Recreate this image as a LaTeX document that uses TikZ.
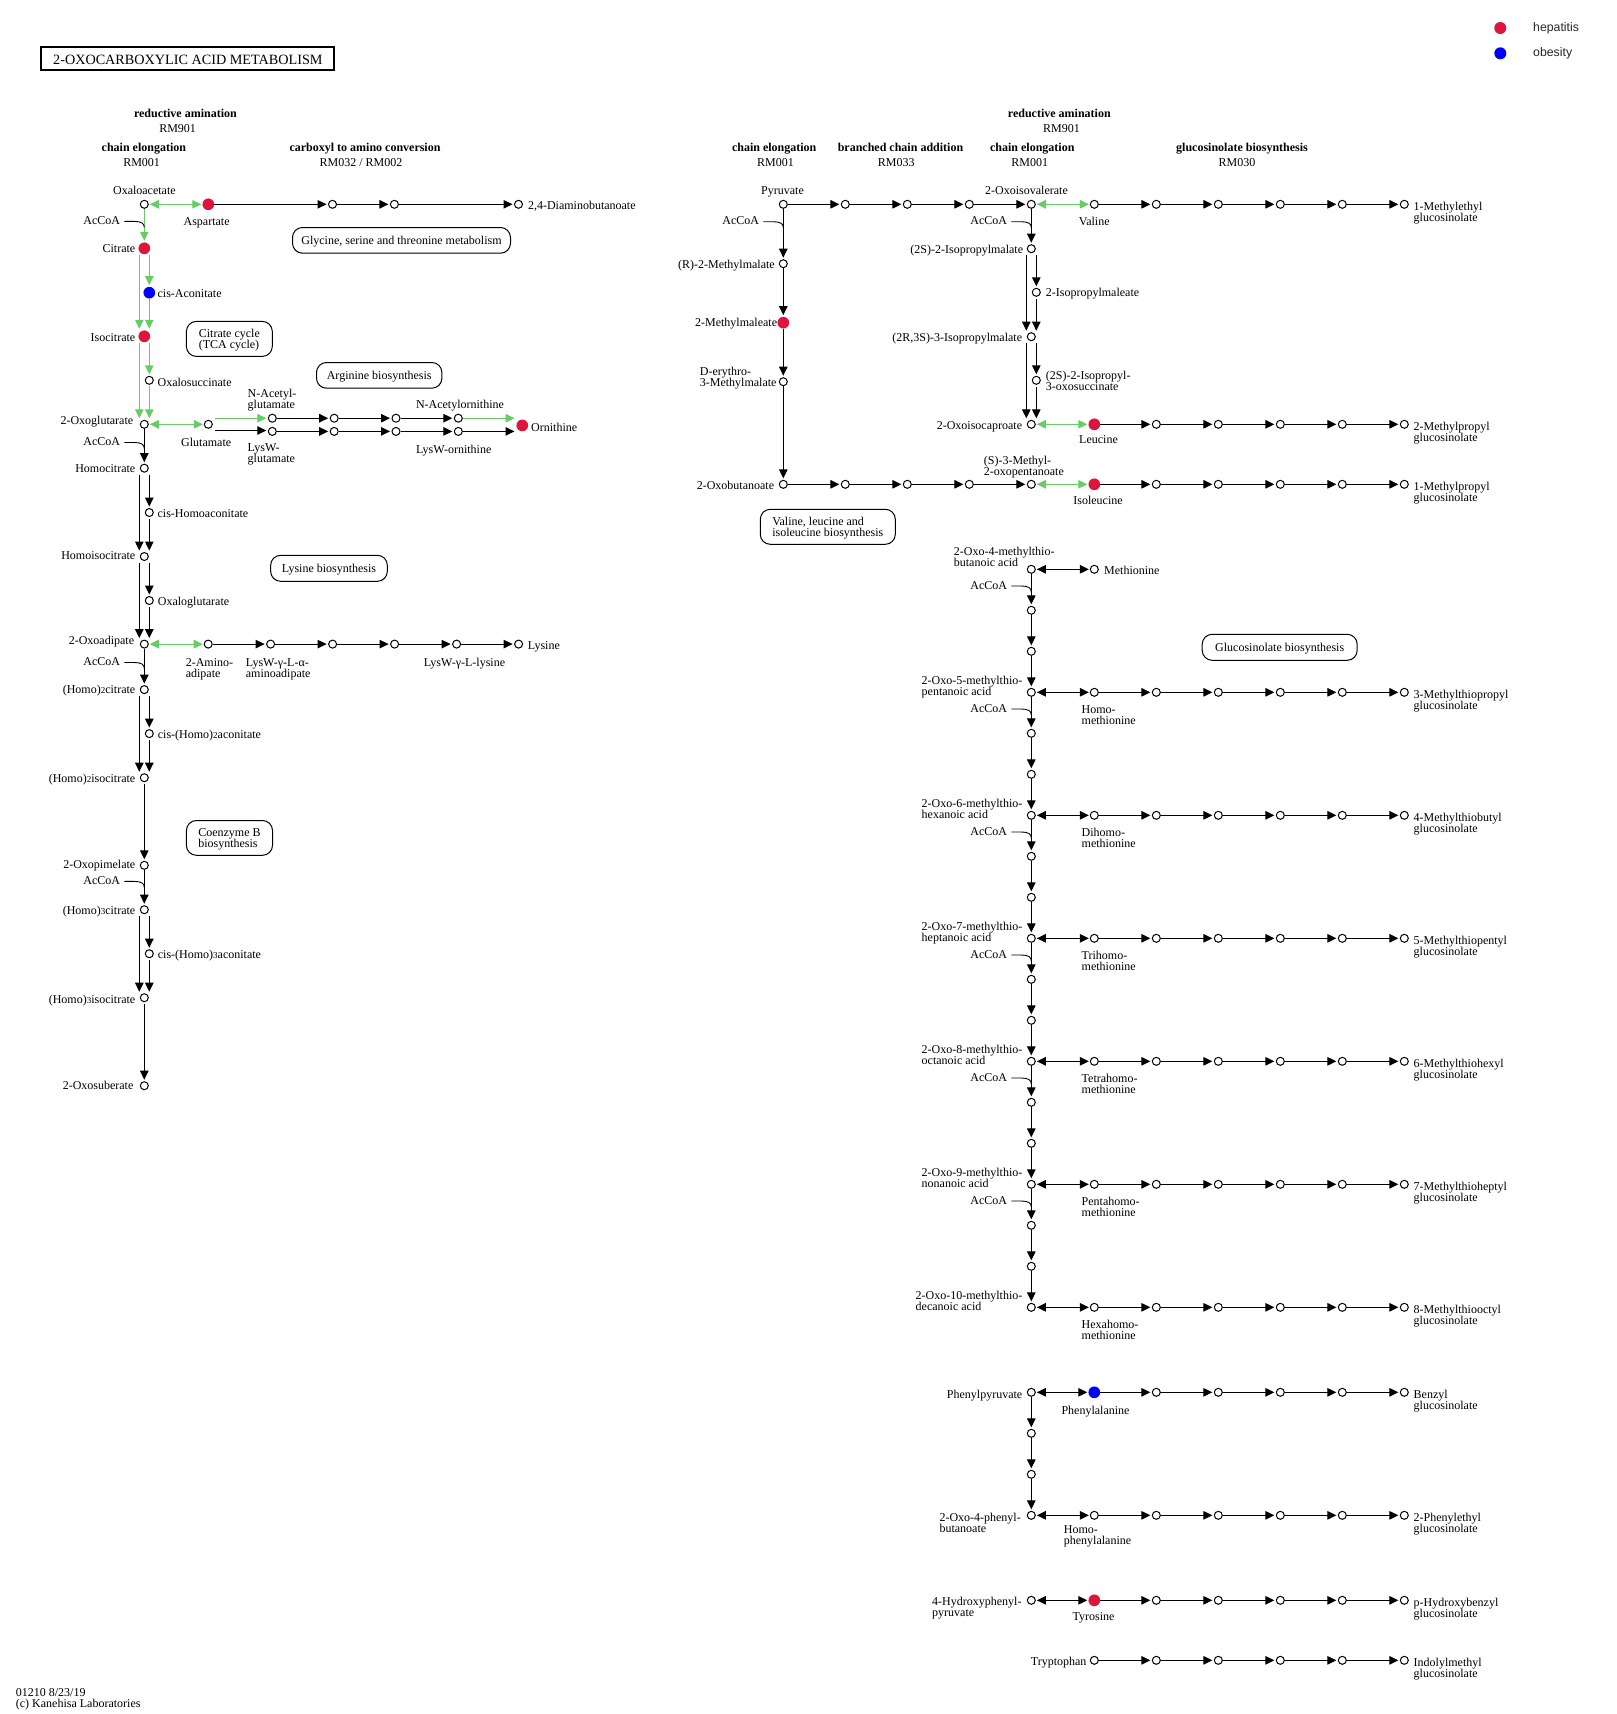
\documentclass[tikz,border=0pt]{standalone}
\usepackage{fontspec}
\setmainfont{Liberation Serif}
\newfontfamily\legfont{Liberation Sans}
\usetikzlibrary{arrows.meta}
\definecolor{hitred}{RGB}{222,20,60}
\definecolor{hitblue}{RGB}{0,0,255}
\definecolor{kgreen}{RGB}{102,204,102}
\newcommand\fz{\fontsize{12}{11}\selectfont\lineskiplimit=-10pt\relax}
\newcommand\mystrut{\rule[-2.5pt]{0pt}{11pt}}
\newcommand\two[2]{\mystrut #1\\\mystrut #2}
\newcommand\twob[2]{\rule[-2.5pt]{0pt}{13pt}#1\\\mystrut #2}
\newcommand\ssd[1]{{\fontsize{9}{9}\selectfont #1}}
\tikzset{
  met/.style={circle,draw=black,fill=white,line width=1pt,inner sep=0pt,minimum size=8pt},
  hit/.style={circle,fill=hitred,inner sep=0pt,minimum size=11.7pt},
  hib/.style={circle,fill=hitblue,inner sep=0pt,minimum size=11.7pt},
  txt/.style={font=\fz,inner sep=0pt,text height=8.5pt,text depth=2.5pt,yshift=-1.2pt},
  tw/.style={font=\fz,inner sep=0pt,align=left,yshift=-1.2pt},
  hd/.style={txt,font=\fz\bfseries},
  mapbox/.style={draw=black,line width=1pt,rounded corners=10pt,font=\fz,inner sep=0pt,align=left},
  mapone/.style={mapbox,text height=8.5pt,text depth=0.7pt},
  arr/.style={draw=black,line width=1.1pt,-{Triangle[length=9pt,width=8.5pt]},shorten >=1.5pt},
  arg/.style={draw=kgreen,line width=1.1pt,-{Triangle[length=9pt,width=8.5pt]},shorten >=1.5pt},
  dbl/.style={draw=black,line width=1.1pt,{Triangle[length=9pt,width=8.5pt]}-{Triangle[length=9pt,width=8.5pt]},shorten >=1pt,shorten <=1pt},
  dbg/.style={draw=kgreen,line width=1.1pt,{Triangle[length=9pt,width=8.5pt]}-{Triangle[length=9pt,width=8.5pt]},shorten >=1pt,shorten <=1pt},
  cof/.style={draw=black,line width=0.9pt}
}
% AcCoA side entry: id, main line x, y
\newcommand\acc[3]{%
  \node[txt,anchor=east,yshift=1.2pt] (ac#1) at (#2-24,#3) {AcCoA};
  \coordinate (aj#1) at (#2,#3+6);
  \draw[cof,shorten <=4pt] (ac#1.east) -- (#2-10,#3) .. controls (#2-3,#3) and (#2,#3+2) .. (aj#1);
}
% glucosinolate row: id, y, style of first node, end label
\newcommand\grow[4]{%
  \node[#3] (#10) at (1094.3,#2) {};
  \node[met] (#11) at (1156.3,#2) {};
  \node[met] (#12) at (1218.3,#2) {};
  \node[met] (#13) at (1280.3,#2) {};
  \node[met] (#14) at (1342.3,#2) {};
  \node[met] (#15) at (1404.3,#2) {};
  \draw[arr] (#10) -- (#11);
  \draw[arr] (#11) -- (#12);
  \draw[arr] (#12) -- (#13);
  \draw[arr] (#13) -- (#14);
  \draw[arr] (#14) -- (#15);
  \node[tw,anchor=west] (#1e) at (1413.5,#2+7.2) {\two{#4}{glucosinolate}};
}
\begin{document}
\begin{tikzpicture}[x=1pt,y=-1pt]
\useasboundingbox (0,0) rectangle (1617,1714);
% title and legend
\node[draw=black,line width=2pt,minimum width=293pt,minimum height=23.7pt,inner sep=0pt,text height=12.4pt,text depth=0pt,font=\fontsize{14.2}{14}\selectfont] (title) at (187.9,58.55) {2-OXOCARBOXYLIC ACID METABOLISM};
\node[hit,minimum size=12pt] (leg1) at (1500.3,28) {};
\node[hib,minimum size=12pt] (leg2) at (1500.3,53.3) {};
\node[anchor=west,inner sep=0pt,font=\legfont\fontsize{12.3}{12}\selectfont,text=black!85] (legt1) at (1533,28) {hepatitis};
\node[anchor=west,inner sep=0pt,font=\legfont\fontsize{12.3}{12}\selectfont,text=black!85] (legt2) at (1533,53.3) {obesity};
\node[tw,anchor=west] (foot) at (15.7,1697.8) {\two{01210 8/23/19}{(c) Kanehisa Laboratories}};
% headers, left
\node[hd] (h1) at (185.4,112.9) {reductive amination};
\node[txt] (h2) at (177.6,128.6) {RM901};
\node[hd] (h3) at (143.9,146.8) {chain elongation};
\node[txt] (h4) at (141.6,162.5) {RM001};
\node[hd] (h5) at (365,146.8) {carboxyl to amino conversion};
\node[txt] (h6) at (361,162.5) {RM032 / RM002};
% headers, right
\node[hd] (h7) at (1059.3,112.9) {reductive amination};
\node[txt] (h8) at (1061.5,128.6) {RM901};
\node[hd] (h9) at (774.2,146.8) {chain elongation};
\node[txt] (h10) at (775.5,162.5) {RM001};
\node[hd] (h11) at (900.5,146.8) {branched chain addition};
\node[txt] (h12) at (896.2,162.5) {RM033};
\node[hd] (h13) at (1032.3,146.8) {chain elongation};
\node[txt] (h14) at (1029.7,162.5) {RM001};
\node[hd] (h15) at (1242,146.8) {glucosinolate biosynthesis};
\node[txt] (h16) at (1237,162.5) {RM030};
% map boxes
\node[mapone,minimum width=218pt,minimum height=25.7pt] (bGly) at (401.5,240.35) {Glycine, serine and threonine metabolism};
\node[mapbox,minimum width=85.9pt,minimum height=35pt] (bTca) at (229.35,338.9) {\twob{Citrate cycle}{(TCA cycle)}};
\node[mapone,minimum width=125.4pt,minimum height=25.7pt] (bArg) at (379.2,375.35) {Arginine biosynthesis};
\node[mapone,minimum width=116.7pt,minimum height=26pt] (bLys) at (329,568.3) {Lysine biosynthesis};
\node[mapbox,minimum width=86.1pt,minimum height=34.8pt] (bCoB) at (229.45,837.9) {\twob{Coenzyme B}{biosynthesis}};
\node[mapbox,minimum width=135pt,minimum height=35pt] (bVal) at (827.8,526.8) {\twob{Valine, leucine and}{isoleucine biosynthesis}};
\node[mapone,minimum width=155pt,minimum height=26pt] (bGls) at (1279.7,647.3) {Glucosinolate biosynthesis};
% LEFT COLUMN nodes
\node[met] (Oxa) at (144.3,204.3) {};
\node[hit] (Asp) at (208.3,204.3) {};
\node[met] (Dab1) at (332.5,204.3) {};
\node[met] (Dab2) at (394.4,204.3) {};
\node[met] (Dab) at (518.5,204.3) {};
\node[hit] (Cit) at (144.3,248.3) {};
\node[hib] (Aco) at (149.3,292.7) {};
\node[hit] (Iso) at (144.3,336.3) {};
\node[met] (Oxs) at (149.3,380.3) {};
\node[met] (Oxg) at (144.3,424.3) {};
\node[met] (Glu) at (208.3,424.3) {};
\node[met] (Ng1) at (272.3,418.2) {};
\node[met] (Ng2) at (334.2,418.2) {};
\node[met] (Ng3) at (396,418.2) {};
\node[met] (Ng4) at (458.3,418.2) {};
\node[met] (Lg1) at (272.3,431.4) {};
\node[met] (Lg2) at (334.2,431.4) {};
\node[met] (Lg3) at (396,431.4) {};
\node[met] (Lg4) at (458.3,431.4) {};
\node[hit] (Orn) at (522.3,425.4) {};
\node[met] (Hci) at (144.3,468.2) {};
\node[met] (Hac) at (149.3,512.5) {};
\node[met] (His) at (144.3,556.5) {};
\node[met] (Oxl) at (149.3,600.5) {};
\node[met] (Oad) at (144.3,644.1) {};
\node[met] (Aad) at (208.2,644.1) {};
\node[met] (Ly1) at (270.6,644.1) {};
\node[met] (Ly2) at (332.6,644.1) {};
\node[met] (Ly3) at (394.6,644.1) {};
\node[met] (Ly4) at (456.6,644.1) {};
\node[met] (Lys) at (518.6,644.1) {};
\node[met] (H2c) at (144.3,689.6) {};
\node[met] (H2a) at (149.3,733.6) {};
\node[met] (H2i) at (144.3,777.7) {};
\node[met] (Opm) at (144.3,865.3) {};
\node[met] (H3c) at (144.3,909.7) {};
\node[met] (H3a) at (149.3,953.7) {};
\node[met] (H3i) at (144.3,997.7) {};
\node[met] (Osb) at (144.3,1085.7) {};
\coordinate (gs1) at (215,418.2);
\coordinate (gs2) at (215,430.5);
\coordinate (oe1) at (516,418.2);
\coordinate (oe2) at (516,431.4);
% LEFT COLUMN connectors
\draw[dbg] (Oxa) -- (Asp);
\draw[arr] (Asp) -- (Dab1);
\draw[arr] (Dab1) -- (Dab2);
\draw[arr] (Dab2) -- (Dab);
\draw[arg] (Oxa) -- (Cit);
\draw[arg,shorten <=1pt] ([xshift=-5pt]Cit.south) -- ([xshift=-5pt]Iso.north);
\draw[arg,shorten <=1pt] ([xshift=5pt]Cit.south) -- (Aco);
\draw[arg] (Aco) -- ([xshift=5pt]Iso.north);
\draw[arg,shorten <=1pt] ([xshift=-5pt]Iso.south) -- ([xshift=-5pt]Oxg.north);
\draw[arg,shorten <=1pt] ([xshift=5pt]Iso.south) -- (Oxs);
\draw[arg,shorten <=1.5pt] (Oxs) -- ([xshift=5pt]Oxg.north);
\draw[dbg] (Oxg) -- (Glu);
\draw[arg] (gs1) -- (Ng1);
\draw[arr] (gs2) -- (Lg1.west |- gs2);
\draw[arr] (Ng1) -- (Ng2);
\draw[arr] (Ng2) -- (Ng3);
\draw[arr] (Ng3) -- (Ng4);
\draw[arr] (Lg1) -- (Lg2);
\draw[arr] (Lg2) -- (Lg3);
\draw[arr] (Lg3) -- (Lg4);
\draw[arg] (Ng4) -- (oe1);
\draw[arr] (Lg4) -- (oe2);
\draw[arr] (Oxg) -- (Hci);
\draw[arr,shorten <=2pt] ([xshift=-5pt]Hci.south) -- ([xshift=-5pt]His.north);
\draw[arr,shorten <=2pt] ([xshift=5pt]Hci.south) -- (Hac);
\draw[arr,shorten <=2pt] (Hac) -- ([xshift=5pt]His.north);
\draw[arr,shorten <=2pt] ([xshift=-5pt]His.south) -- ([xshift=-5pt]Oad.north);
\draw[arr,shorten <=2pt] ([xshift=5pt]His.south) -- (Oxl);
\draw[arr,shorten <=2pt] (Oxl) -- ([xshift=5pt]Oad.north);
\draw[dbg] (Oad) -- (Aad);
\draw[arr] (Aad) -- (Ly1);
\draw[arr] (Ly1) -- (Ly2);
\draw[arr] (Ly2) -- (Ly3);
\draw[arr] (Ly3) -- (Ly4);
\draw[arr] (Ly4) -- (Lys);
\draw[arr] (Oad) -- (H2c);
\draw[arr,shorten <=2pt] ([xshift=-5pt]H2c.south) -- ([xshift=-5pt]H2i.north);
\draw[arr,shorten <=2pt] ([xshift=5pt]H2c.south) -- (H2a);
\draw[arr,shorten <=2pt] (H2a) -- ([xshift=5pt]H2i.north);
\draw[arr,shorten <=2pt] (H2i) -- (Opm);
\draw[arr] (Opm) -- (H3c);
\draw[arr,shorten <=2pt] ([xshift=-5pt]H3c.south) -- ([xshift=-5pt]H3i.north);
\draw[arr,shorten <=2pt] ([xshift=5pt]H3c.south) -- (H3a);
\draw[arr,shorten <=2pt] (H3a) -- ([xshift=5pt]H3i.north);
\draw[arr,shorten <=2pt] (H3i) -- (Osb);
\acc{L1}{144.3}{221.4}
\acc{L2}{144.3}{442.5}
\acc{L3}{144.3}{662.5}
\acc{L4}{144.3}{881.4}
% LEFT COLUMN labels
\node[txt] (tOxa) at (144.4,190) {Oxaloacetate};
\node[txt] (tAsp) at (206.6,221) {Aspartate};
\node[txt,anchor=west] (tDab) at (527.8,205.7) {2,4-Diaminobutanoate};
\node[txt,anchor=east] (tCit) at (135.5,248.6) {Citrate};
\node[txt,anchor=west] (tAco) at (157.4,292.9) {cis-Aconitate};
\node[txt,anchor=east] (tIso) at (135.5,336.8) {Isocitrate};
\node[txt,anchor=west] (tOxs) at (157.4,381.8) {Oxalosuccinate};
\node[txt,anchor=east] (tOxg) at (133.4,420.7) {2-Oxoglutarate};
\node[txt] (tGlu) at (206.2,441.8) {Glutamate};
\node[tw,anchor=west] (tNg1) at (247.5,398.4) {\two{N-Acetyl-}{glutamate}};
\node[tw,anchor=west] (tLg1) at (247.5,452.6) {\two{LysW-}{glutamate}};
\node[txt,anchor=west] (tNg4) at (415.8,403.9) {N-Acetylornithine};
\node[txt,anchor=west] (tLg4) at (415.8,449) {LysW-ornithine};
\node[txt,anchor=west] (tOrn) at (531,426.8) {Ornithine};
\node[txt,anchor=east] (tHci) at (135.5,468.2) {Homocitrate};
\node[txt,anchor=west] (tHac) at (157.4,512.9) {cis-Homoaconitate};
\node[txt,anchor=east] (tHis) at (135.5,555.7) {Homoisocitrate};
\node[txt,anchor=west] (tOxl) at (157.7,601.6) {Oxaloglutarate};
\node[txt,anchor=east] (tOad) at (134.3,640.6) {2-Oxoadipate};
\node[tw,anchor=west] (tAad) at (185.6,667.4) {\two{2-Amino-}{adipate}};
\node[tw,anchor=west] (tLy1) at (245.7,667.4) {\two{LysW-γ-L-α-}{aminoadipate}};
\node[txt,anchor=west] (tLy4) at (423.6,662) {LysW-γ-L-lysine};
\node[txt,anchor=west] (tLys) at (527.7,644.9) {Lysine};
\node[txt,anchor=east] (tH2c) at (135.5,689.6) {(Homo)\ssd{2}citrate};
\node[txt,anchor=west] (tH2a) at (157.7,734) {cis-(Homo)\ssd{2}aconitate};
\node[txt,anchor=east] (tH2i) at (135.5,778) {(Homo)\ssd{2}isocitrate};
\node[txt,anchor=east] (tOpm) at (135.5,864.1) {2-Oxopimelate};
\node[txt,anchor=east] (tH3c) at (135.5,910) {(Homo)\ssd{3}citrate};
\node[txt,anchor=west] (tH3a) at (157.7,954) {cis-(Homo)\ssd{3}aconitate};
\node[txt,anchor=east] (tH3i) at (135.5,998.9) {(Homo)\ssd{3}isocitrate};
\node[txt,anchor=east] (tOsb) at (133.6,1085.7) {2-Oxosuberate};
% RIGHT: branched chain part
\node[met] (Pyr) at (783.3,204.3) {};
\node[met] (Pb1) at (845.3,204.3) {};
\node[met] (Pb2) at (907.3,204.3) {};
\node[met] (Pb3) at (969.3,204.3) {};
\node[met] (Ois) at (1031.3,204.3) {};
\node[met] (Rmm) at (783.3,263.7) {};
\node[hit] (Mme) at (783.3,322.7) {};
\node[met] (Der) at (783.3,381.7) {};
\node[met] (Obu) at (783.3,484.3) {};
\node[met] (Ob1) at (845.3,484.3) {};
\node[met] (Ob2) at (907.3,484.3) {};
\node[met] (Ob3) at (969.3,484.3) {};
\node[met] (Mop) at (1031.3,484.3) {};
\node[met] (Ipm) at (1031.3,248.7) {};
\node[met] (Imal) at (1036.3,292.3) {};
\node[met] (Rip) at (1031.3,336.7) {};
\node[met] (Ios) at (1036.3,380.3) {};
\node[met] (Oic) at (1031.3,424.3) {};
\grow{V}{204.3}{met}{1-Methylethyl}
\grow{E}{424.3}{hit}{2-Methylpropyl}
\grow{I}{484.3}{hit}{1-Methylpropyl}
\draw[arr] (Pyr) -- (Pb1);
\draw[arr] (Pb1) -- (Pb2);
\draw[arr] (Pb2) -- (Pb3);
\draw[arr] (Pb3) -- (Ois);
\draw[arr] (Pyr) -- (Rmm);
\draw[arr] (Rmm) -- (Mme);
\draw[arr] (Mme) -- (Der);
\draw[arr] (Der) -- (Obu);
\draw[arr] (Obu) -- (Ob1);
\draw[arr] (Ob1) -- (Ob2);
\draw[arr] (Ob2) -- (Ob3);
\draw[arr] (Ob3) -- (Mop);
\draw[arr] (Ois) -- (Ipm);
\draw[arr,shorten <=2pt] ([xshift=-5pt]Ipm.south) -- ([xshift=-5pt]Rip.north);
\draw[arr,shorten <=2pt] ([xshift=5pt]Ipm.south) -- (Imal);
\draw[arr,shorten <=2pt] (Imal) -- ([xshift=5pt]Rip.north);
\draw[arr,shorten <=2pt] ([xshift=-5pt]Rip.south) -- ([xshift=-5pt]Oic.north);
\draw[arr,shorten <=2pt] ([xshift=5pt]Rip.south) -- (Ios);
\draw[arr,shorten <=2pt] (Ios) -- ([xshift=5pt]Oic.north);
\draw[dbg] (Ois) -- (V0);
\draw[dbg] (Oic) -- (E0);
\draw[dbg] (Mop) -- (I0);
\acc{R1}{783.3}{221.7}
\acc{R2}{1031.3}{221.7}
\node[txt] (tPyr) at (782.5,190) {Pyruvate};
\node[txt] (tOis) at (1026.5,190) {2-Oxoisovalerate};
\node[txt] (tVal) at (1094.3,221.7) {Valine};
\node[txt,anchor=east] (tRmm) at (775,264.7) {(R)-2-Methylmalate};
\node[txt,anchor=east] (tMme) at (777.3,322.7) {2-Methylmaleate};
\node[tw,anchor=west] (tDer) at (699.7,377.3) {\two{D-erythro-}{3-Methylmalate}};
\node[txt,anchor=east] (tObu) at (774.3,485.7) {2-Oxobutanoate};
\node[txt,anchor=east] (tIpm) at (1023.3,249) {(2S)-2-Isopropylmalate};
\node[txt,anchor=west] (tImal) at (1045.7,292.7) {2-Isopropylmaleate};
\node[txt,anchor=east] (tRip) at (1022.3,337) {(2R,3S)-3-Isopropylmalate};
\node[tw,anchor=west] (tIos) at (1045.7,380.3) {\two{(2S)-2-Isopropyl-}{3-oxosuccinate}};
\node[txt,anchor=east] (tOic) at (1022.3,425) {2-Oxoisocaproate};
\node[txt] (tLeu) at (1098.5,439.7) {Leucine};
\node[txt] (tIle) at (1098,500.7) {Isoleucine};
\node[tw,anchor=west] (tMop) at (983.7,466.3) {\two{(S)-3-Methyl-}{2-oxopentanoate}};
% RIGHT: methionine chain elongation
\node[met] (M) at (1094.3,569.3) {};
\node[tw,anchor=west] (tk0) at (953.7,557.2) {\two{2-Oxo-4-methylthio-}{butanoic acid}};
\node[txt,anchor=west] (tM) at (1104,570) {Methionine};
\foreach \vi/\vy in {0/569.3,1/692.3,2/815.3,3/938.3,4/1061.3,5/1184.3,6/1307.3}{
  \node[met] (k\vi) at (1031.3,\vy) {};
}
\foreach \vi/\vy in {0/569.3,1/692.3,2/815.3,3/938.3,4/1061.3,5/1184.3}{
  \node[met] (k\vi a) at (1031.3,\vy+41) {};
  \node[met] (k\vi b) at (1031.3,\vy+82) {};
  \acc{M\vi}{1031.3}{\vy+16.7}
}
\foreach \vi/\vj in {0/1,1/2,2/3,3/4,4/5,5/6}{
  \draw[arr] (k\vi) -- (k\vi a);
  \draw[arr] (k\vi a) -- (k\vi b);
  \draw[arr] (k\vi b) -- (k\vj);
}
\draw[dbl] (k0) -- (M);
\foreach \vi/\vy/\vn/\vs/\vh/\ve/\vx in {
  1/692.3/5/pentanoic/Homo-/3-Methylthiopropyl/921.5,
  2/815.3/6/hexanoic/Dihomo-/4-Methylthiobutyl/921.5,
  3/938.3/7/heptanoic/Trihomo-/5-Methylthiopentyl/921.5,
  4/1061.3/8/octanoic/Tetrahomo-/6-Methylthiohexyl/921.5,
  5/1184.3/9/nonanoic/Pentahomo-/7-Methylthioheptyl/921.5,
  6/1307.3/10/decanoic/Hexahomo-/8-Methylthiooctyl/915.5}{
  \grow{r\vi}{\vy}{met}{\ve}
  \draw[dbl] (k\vi) -- (r\vi0);
  \node[tw,anchor=west] (tk\vi) at (\vx,\vy-6.3) {\two{2-Oxo-\vn-methylthio-}{\vs\ acid}};
  \node[tw,anchor=west] (th\vi) at (1081.5,\vy+22.2) {\two{\vh}{methionine}};
}
% RIGHT: aromatic rows
\node[met] (Ppy) at (1031.3,1392.3) {};
\node[met] (Pa) at (1031.3,1433.3) {};
\node[met] (Pb) at (1031.3,1474.3) {};
\node[met] (Opb) at (1031.3,1515.3) {};
\node[met] (Hpp) at (1031.3,1600.3) {};
\grow{P}{1392.3}{hib}{Benzyl}
\grow{H}{1515.3}{met}{2-Phenylethyl}
\grow{Y}{1600.3}{hit}{p-Hydroxybenzyl}
\grow{W}{1660.3}{met}{Indolylmethyl}
\draw[dbl] (Ppy) -- (P0);
\draw[arr] (Ppy) -- (Pa);
\draw[arr] (Pa) -- (Pb);
\draw[arr] (Pb) -- (Opb);
\draw[dbl] (Opb) -- (H0);
\draw[dbl] (Hpp) -- (Y0);
\node[txt,anchor=east] (tPpy) at (1022.5,1394) {Phenylpyruvate};
\node[txt] (tPhe) at (1095.5,1410) {Phenylalanine};
\node[tw,anchor=west] (tOpb) at (939.3,1522.5) {\two{2-Oxo-4-phenyl-}{butanoate}};
\node[tw,anchor=west] (tHph) at (1063.7,1534.5) {\two{Homo-}{phenylalanine}};
\node[tw,anchor=west] (tHpp) at (932,1606.5) {\two{4-Hydroxyphenyl-}{pyruvate}};
\node[txt,anchor=west] (tTyr) at (1072.4,1616.7) {Tyrosine};
\node[txt,anchor=east] (tTrp) at (1086.6,1661) {Tryptophan};
\end{tikzpicture}
\end{document}
